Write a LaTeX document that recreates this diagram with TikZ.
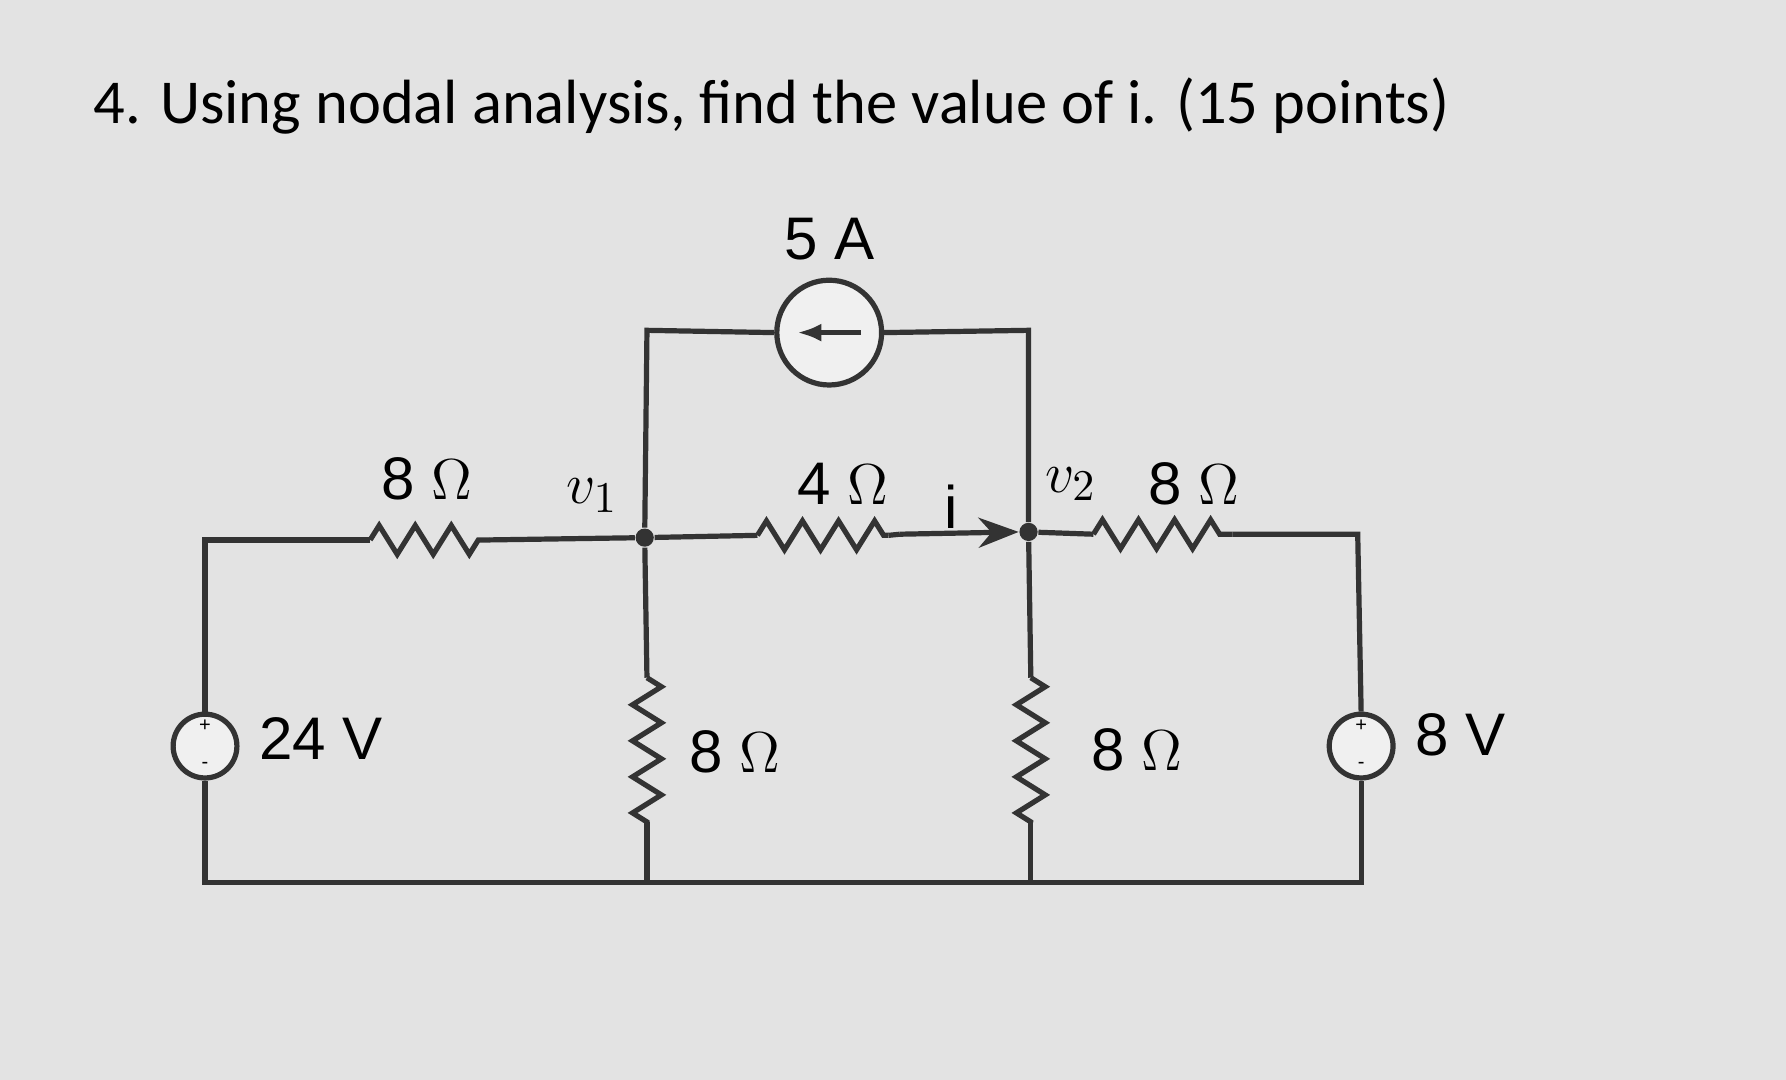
\documentclass[tikz,border=0pt]{standalone}
\usepackage{fontspec}
\setmainfont{Liberation Sans}
\newfontfamily\titlefont{Carlito}
\usetikzlibrary{decorations.pathmorphing,arrows.meta}
\begin{document}
\begin{tikzpicture}[x=0.01cm,y=-0.01cm,
  wire/.style={line width=1.3pt,black!80},
  res/.style={wire,decorate,decoration={zigzag,amplitude=3.6pt,segment length=9pt}},
  lbl/.style={font=\fontsize{15}{18}\selectfont},
  src/.style={circle,draw=black!80,line width=1.3pt,minimum size=56*0.01cm,inner sep=0pt,fill=gray!12},
  dot/.style={circle,fill=black!80,minimum size=16*0.01cm,inner sep=0pt}]
\useasboundingbox (0,0) rectangle (1568,948);
\fill[gray!22] (0,0) rectangle (1568,948);
\node[anchor=west,font=\titlefont\fontsize{15.6}{20}\selectfont] (title) at (70,93) {4. Using nodal analysis, find the value of i. (15 points)};
% coordinates
\coordinate (tl) at (180,474);
\coordinate (bl) at (180,775);
\coordinate (r1a) at (325,474); \coordinate (r1b) at (430,474);
\node[dot] (v1) at (566,472) {};
\coordinate (t1) at (568,290); \coordinate (b1) at (568,775);
\coordinate (r3a) at (568,595); \coordinate (r3b) at (568,722);
\node[src,minimum size=92*0.01cm] (cs) at (728,292) {};
\coordinate (t2) at (903,290);
\coordinate (r2a) at (665,470); \coordinate (r2b) at (780,470);
\coordinate (ia) at (790,469);
\node[dot] (v2) at (903,467) {};
\coordinate (r4a) at (960,469); \coordinate (r4b) at (1082,469);
\coordinate (tr) at (1192,469);
\coordinate (r5a) at (905,595); \coordinate (r5b) at (905,722);
\coordinate (b2) at (905,775);
\coordinate (br) at (1195,775);
\node[src] (s1) at (180,655) {};
\node[src] (s2) at (1195,655) {};
% wires
\draw[wire] (s1.north) -- (tl) -- (r1a);
\draw[res] (r1a) -- (r1b);
\draw[wire] (r1b) -- (v1);
\draw[wire] (s1.south) -- (bl) -- (b1) -- (b2) -- (br) -- (s2.south);
\draw[wire] (s2.north) -- (tr) -- (r4b);
\draw[res] (r4a) -- (r4b);
\draw[wire] (v2) -- (r4a);
\draw[wire] (v1) -- (t1) -- (cs.west);
\draw[wire] (cs.east) -- (t2) -- (v2);
\draw[wire] (v1) -- (r3a); \draw[res] (r3a) -- (r3b); \draw[wire] (r3b) -- (b1);
\draw[wire] (v2) -- (r5a); \draw[res] (r5a) -- (r5b); \draw[wire] (r5b) -- (b2);
\draw[wire] (v1) -- (r2a); \draw[res] (r2a) -- (r2b); \draw[wire] (r2b) -- (ia);
\draw[wire,-{Stealth[length=10pt]}] (ia) -- (v2.west);
\draw[wire,-{Latex[length=6pt]}] ([xshift=0.28cm]cs.center) -- ([xshift=-0.28cm]cs.center);
% source signs
\node[font=\tiny] (p1) at (180,637) {+}; \node[font=\tiny] (m1) at (180,672) {-};
\node[font=\tiny] (p2) at (1195,637) {+}; \node[font=\tiny] (m2) at (1195,672) {-};
% labels
\node[lbl] (l5a) at (728,210) {5 A};
\node[lbl] (l1) at (375,420) {8 $\Omega$};
\node[lbl] (l2) at (740,425) {4 $\Omega$};
\node[lbl] (l4) at (1048,425) {8 $\Omega$};
\node[lbl] (l3) at (645,660) {8 $\Omega$};
\node[lbl] (l5) at (998,658) {8 $\Omega$};
\node[lbl] (li) at (835,445) {i};
\node[lbl] (l24) at (282,648) {24 V};
\node[lbl] (l8) at (1282,645) {8 V};
\node[lbl] (hv1) at (520,435) {$v_1$};
\node[lbl] (hv2) at (940,425) {$v_2$};
\end{tikzpicture}
\end{document}
